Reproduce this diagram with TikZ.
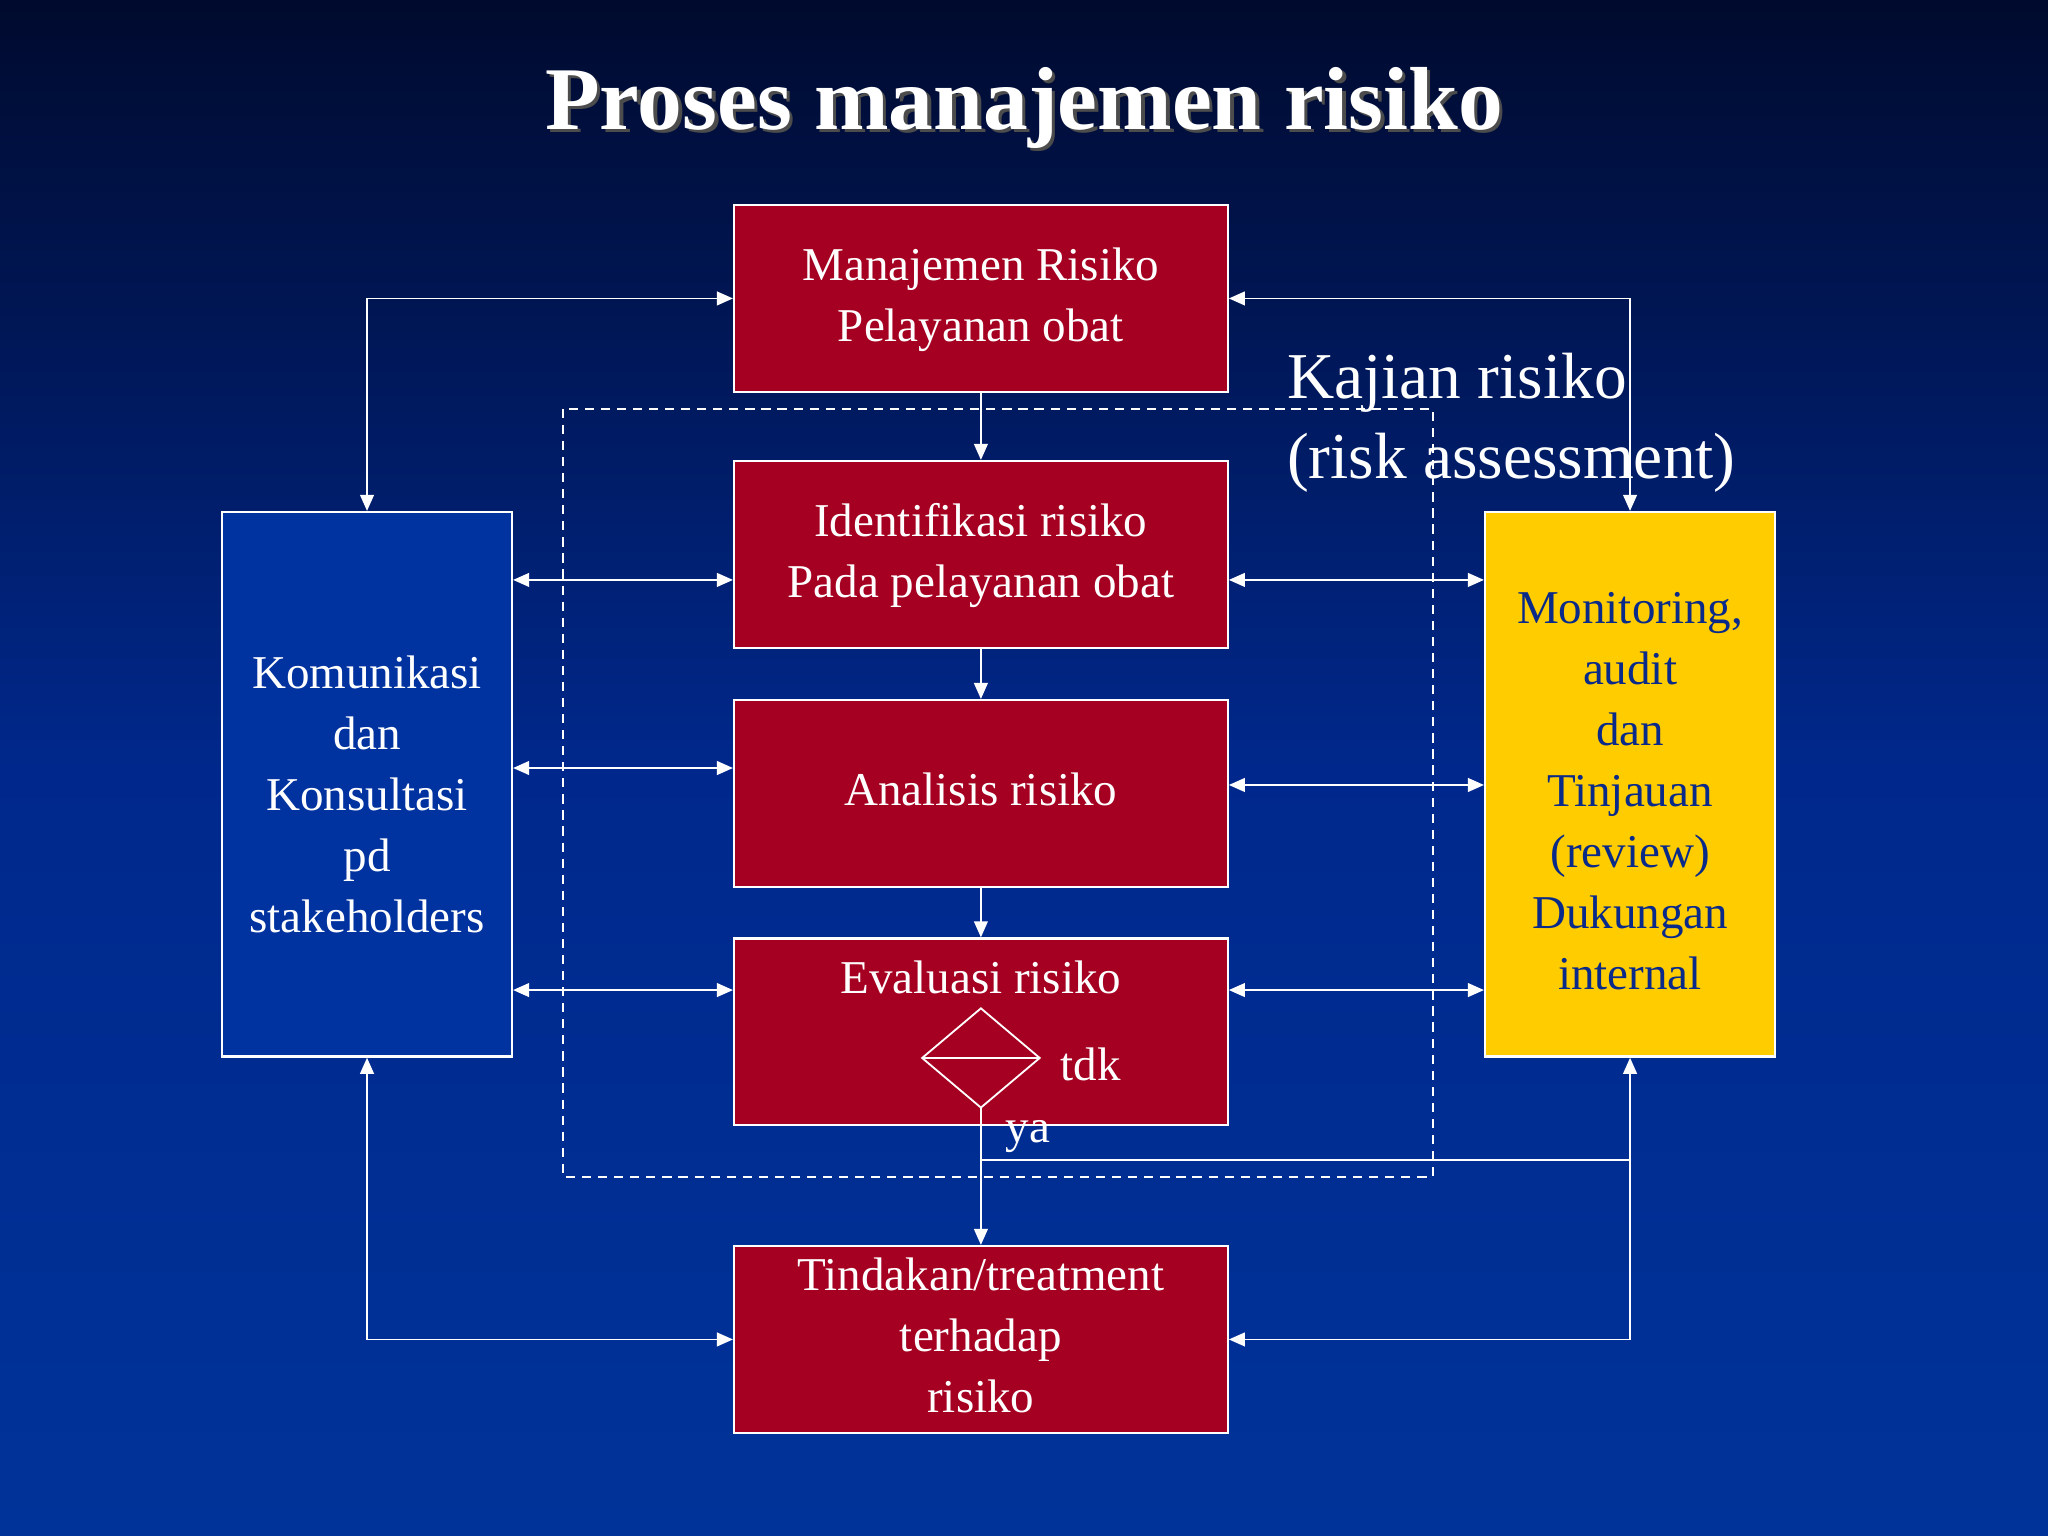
\documentclass[tikz,border=0pt]{standalone}
\usepackage{fontspec}
\setmainfont{Liberation Serif}
\usetikzlibrary{arrows.meta}
\definecolor{rbox}{HTML}{A50021}
\definecolor{bbox}{HTML}{0033A0}
\definecolor{ybox}{HTML}{FFCC00}
\definecolor{ytext}{HTML}{0A2A8A}
\tikzset{
 redbox/.style={draw=white,line width=1pt,fill=rbox,text=white,minimum width=7.56cm,minimum height=2.86cm,align=center,inner sep=0pt,font=\fontsize{20.5}{26.6}\selectfont},
 sidebox/.style={draw=white,line width=1pt,minimum width=4.44cm,minimum height=8.34cm,inner sep=0pt},
 sidetext/.style={align=center,inner sep=0pt,font=\fontsize{20.5}{26.6}\selectfont},
 conn/.style={draw=white,line width=0.8pt,-{Triangle[length=7pt,width=6pt]}},
 dconn/.style={draw=white,line width=0.8pt,{Triangle[length=7pt,width=6pt]}-{Triangle[length=7pt,width=6pt]}},
 lbl/.style={text=white,font=\fontsize{20.5}{22}\selectfont,inner sep=0pt}
}
\begin{document}
\begin{tikzpicture}[x=0.02cm,y=-0.02cm]
\shade[top color={rgb,255:red,0;green,10;blue,46},bottom color={rgb,255:red,0;green,51;blue,153},middle color={rgb,255:red,0;green,40;blue,140}] (0,0) rectangle (1568,1176);
\useasboundingbox (0,0) rectangle (1568,1176);
\node (title) [text=white,font=\fontsize{39}{44}\bfseries\selectfont] at (784,84) {\rlap{\color{black!70}\kern1.5pt\raisebox{-1.5pt}{Proses manajemen risiko}}Proses manajemen risiko};
\draw[white,line width=0.8pt,dash pattern=on 4pt off 3pt] (431,313) rectangle (1097,901);
\node (m) [redbox] at (751,228.5) {\strut Manajemen Risiko\\\strut Pelayanan obat};
\node (i) [redbox] at (751,424.5) {\strut Identifikasi risiko\\\strut Pada pelayanan obat};
\node (a) [redbox] at (751,607.5) {\strut Analisis risiko};
\node (e) [redbox] at (751,790) {};
\node (t) [redbox] at (751,1025.5) {\strut Tindakan/treatment\\terhadap\\\strut risiko};
\node (el) [lbl] at (751,748) {Evaluasi risiko};
\draw[white,line width=0.8pt] (706,810) -- (751,772) -- (796,810) -- (751,848) -- cycle (706,810) -- (796,810);
\coordinate (db) at (751,848);
\node (tdk) [lbl] at (835,815) {tdk};
\node (ya) [lbl] at (787,870) {ya};
\node (k) [sidebox,fill=bbox] at (281,600.5) {};
\node (kt) [sidetext,text=white] at (281,608) {Komunikasi\\dan\\Konsultasi\\pd\\stakeholders};
\node (mo) [sidebox,fill=ybox] at (1248,600.5) {};
\node (mot) [sidetext,text=ytext] at (1248,606) {Monitoring,\\audit\\dan\\Tinjauan\\(review)\\Dukungan\\internal};
\node (kj) [text=white,align=left,anchor=north west,inner sep=0pt,font=\fontsize{28.5}{35}\selectfont] at (985,270) {Kajian risiko\\(risk assessment)};
% vertical flow
\draw[conn] (m) -- (i);
\draw[conn] (i) -- (a);
\draw[conn] (a) -- (e);
\draw[conn] (db) -- (t);
% top loops
\draw[dconn] (k.north) |- (m.west);
\draw[dconn] (m.east) -| (mo.north);
% horizontals
\draw[dconn] (k.east|-0,444) -- (i.west|-0,444);
\draw[dconn] (k.east|-0,588) -- (a.west|-0,588);
\draw[dconn] (k.east|-0,758) -- (e.west|-0,758);
\draw[dconn] (i.east|-0,444) -- (mo.west|-0,444);
\draw[dconn] (a.east|-0,601) -- (mo.west|-0,601);
\draw[dconn] (e.east|-0,758) -- (mo.west|-0,758);
% bottom loops
\coordinate (j) at (751,888);
\coordinate (jr) at (1248,888);
\draw[white,line width=0.8pt] (j) -- (jr);
\draw[conn] (jr) -- (mo.south);
\draw[conn] (jr) |- (t.east);
\draw[dconn] (k.south) |- (t.west);
\end{tikzpicture}
\end{document}
